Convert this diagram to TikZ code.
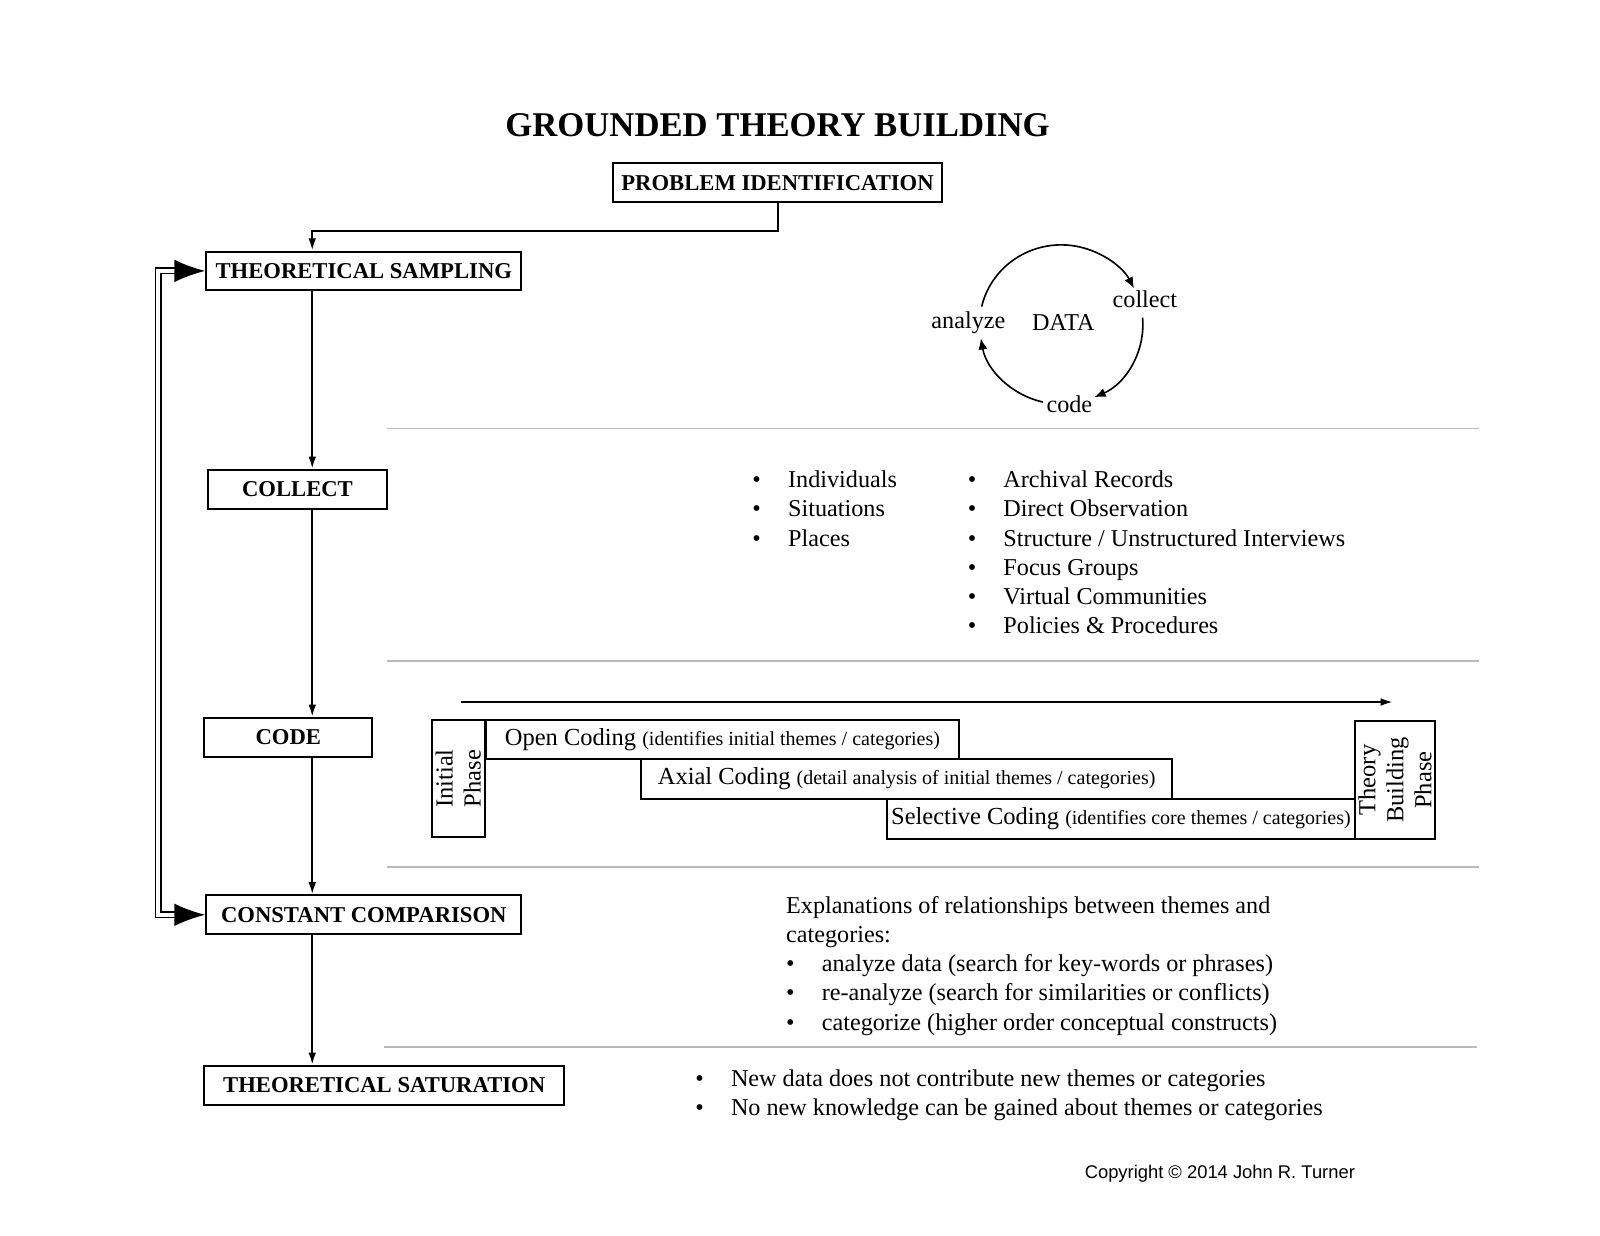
\documentclass[tikz,border=0pt]{standalone}
\usepackage{fontspec}
\setmainfont{Liberation Serif}
\newfontfamily\copyfont{Liberation Sans}
\usetikzlibrary{arrows.meta}

\tikzset{
    stage/.style={draw, line width=1pt, font=\fontsize{11.1}{13}\selectfont\bfseries, minimum height=19pt, inner sep=0pt},
    flow/.style={line width=1pt, -{Latex[length=6pt,width=3.8pt]}},
    feedback/.style={double, double distance=2.2pt, line width=0.6pt, {Latex[length=15pt,width=11pt]}-{Latex[length=15pt,width=11pt]}},
    rulebar/.style={gray!55, line width=0.9pt},
    phase/.style={draw, line width=1pt, inner sep=0pt, font=\fontsize{12}{13.7}\selectfont},
    cycle/.style={line width=0.8pt, -{Latex[length=5.5pt,width=4.5pt]}},
    body/.style={font=\fontsize{11.85}{14.3}\selectfont, inner sep=0pt}
}
\newcommand{\itembullet}{\makebox[17.5pt][l]{\textbullet}}
\newcommand{\bulletlist}[1]{\begin{tabular}[t]{@{}l@{}}#1\end{tabular}}
\newcommand{\bigpart}[1]{{\fontsize{12}{14}\selectfont #1}}
\newcommand{\smallpart}[1]{{\fontsize{9.8}{12}\selectfont #1}}

\begin{document}
\begin{tikzpicture}[x=0.5pt, y=0.5pt]
    \useasboundingbox (0,0) rectangle (1568,1211);
    \node[font=\fontsize{17}{20}\selectfont\bfseries] (title) at (762, 1088) {GROUNDED THEORY BUILDING};
    \node[stage, minimum width=161pt] (problem) at (762, 1032) {PROBLEM IDENTIFICATION};
    \node[stage, minimum width=154.5pt] (sampling) at (356.5, 945.5) {THEORETICAL SAMPLING};
    \node[stage, minimum width=87.5pt] (collect) at (291.5, 731.5) {COLLECT};
    \node[stage, minimum width=82.5pt] (code) at (282.5, 488.5) {CODE};
    \node[stage, minimum width=154.5pt] (comparison) at (356.5, 314.5) {CONSTANT COMPARISON};
    \node[stage, minimum width=176.5pt] (saturation) at (376.5, 147.5) {THEORETICAL SATURATION};
    \coordinate (spine) at (306, 0);
    \coordinate (loop) at (155, 625);
    \draw [flow] (problem.south) -- ++(0,-27) -| (sampling.north -| spine);
    \draw [flow] (sampling.south -| spine) to (collect.north -| spine);
    \draw [flow] (collect.south -| spine) to (code.north -| spine);
    \draw [flow] (code.south -| spine) to (comparison.north -| spine);
    \draw [flow] (comparison.south -| spine) to (saturation.north -| spine);
    \draw [feedback] (comparison.west) -| (loop) |- (sampling.west);

    \draw [rulebar] (379, 791) -- (1449, 791);
    \draw [rulebar] (379, 563) -- (1449, 563);
    \draw [rulebar] (379, 361) -- (1449, 361);
    \draw [rulebar] (376, 185) -- (1447, 185);

    \coordinate (hub) at (1040, 893);
    \node[body] (data) at (1042, 895) {DATA};
    \node[body] (analyze) at (949, 895) {analyze};
    \node[body] (gather) at (1122, 918) {collect};
    \node[body] (coding) at (1048, 815) {code};
    \draw [cycle] (hub) ++(167:80 and 78) arc[start angle=167, end angle=27, x radius=80, y radius=78];
    \draw [cycle] (hub) ++(5:80 and 78) arc[start angle=5, end angle=-66, x radius=80, y radius=78];
    \draw [cycle] (hub) ++(-103:80 and 78) arc[start angle=-103, end angle=-170, x radius=80, y radius=78];

    \node[body, anchor=base west] (sources) at (737, 733) {\bulletlist{\itembullet Individuals\\ \itembullet Situations\\ \itembullet Places}};
    \node[body, anchor=base west] (methods) at (948, 733) {\bulletlist{\itembullet Archival Records\\ \itembullet Direct Observation\\ \itembullet Structure / Unstructured Interviews\\ \itembullet Focus Groups\\ \itembullet Virtual Communities\\ \itembullet Policies \& Procedures}};

    \coordinate (tstart) at (452, 523);
    \coordinate (tend) at (1365, 523);
    \draw [flow] (tstart) to (tend);
    \node[phase, rotate=90, minimum width=57pt, minimum height=26pt, align=center] (initial) at (449, 448) {Initial\\Phase};
    \node[phase, minimum width=232pt, minimum height=19pt] (open) at (708, 486) {\bigpart{Open Coding} \smallpart{(identifies initial themes / categories)}};
    \node[phase, minimum width=260.5pt, minimum height=19.5pt] (axial) at (888.5, 447.5) {\bigpart{Axial Coding} \smallpart{(detail analysis of initial themes / categories)}};
    \node[phase, minimum width=229.5pt, minimum height=19.5pt] (selective) at (1098.5, 408.5) {\bigpart{Selective Coding} \smallpart{(identifies core themes / categories)}};
    \node[phase, rotate=90, minimum width=57.5pt, minimum height=39pt, align=center] (theory) at (1367, 446.5) {Theory\\Building\\Phase};

    \node[body, anchor=base west] (explain) at (770, 316) {\bulletlist{Explanations of relationships between themes and\\ categories:\\ \itembullet analyze data (search for key-words or phrases)\\ \itembullet re-analyze (search for similarities or conflicts)\\ \itembullet categorize (higher order conceptual constructs)}};
    \node[body, anchor=base west] (saturate) at (681, 146) {\bulletlist{\itembullet New data does not contribute new themes or categories\\ \itembullet No new knowledge can be gained about themes or categories}};

    \node[font=\copyfont\fontsize{9}{11}\selectfont, anchor=base west] (copyright) at (1056, 56) {Copyright © 2014 John R. Turner};
\end{tikzpicture}
\end{document}
